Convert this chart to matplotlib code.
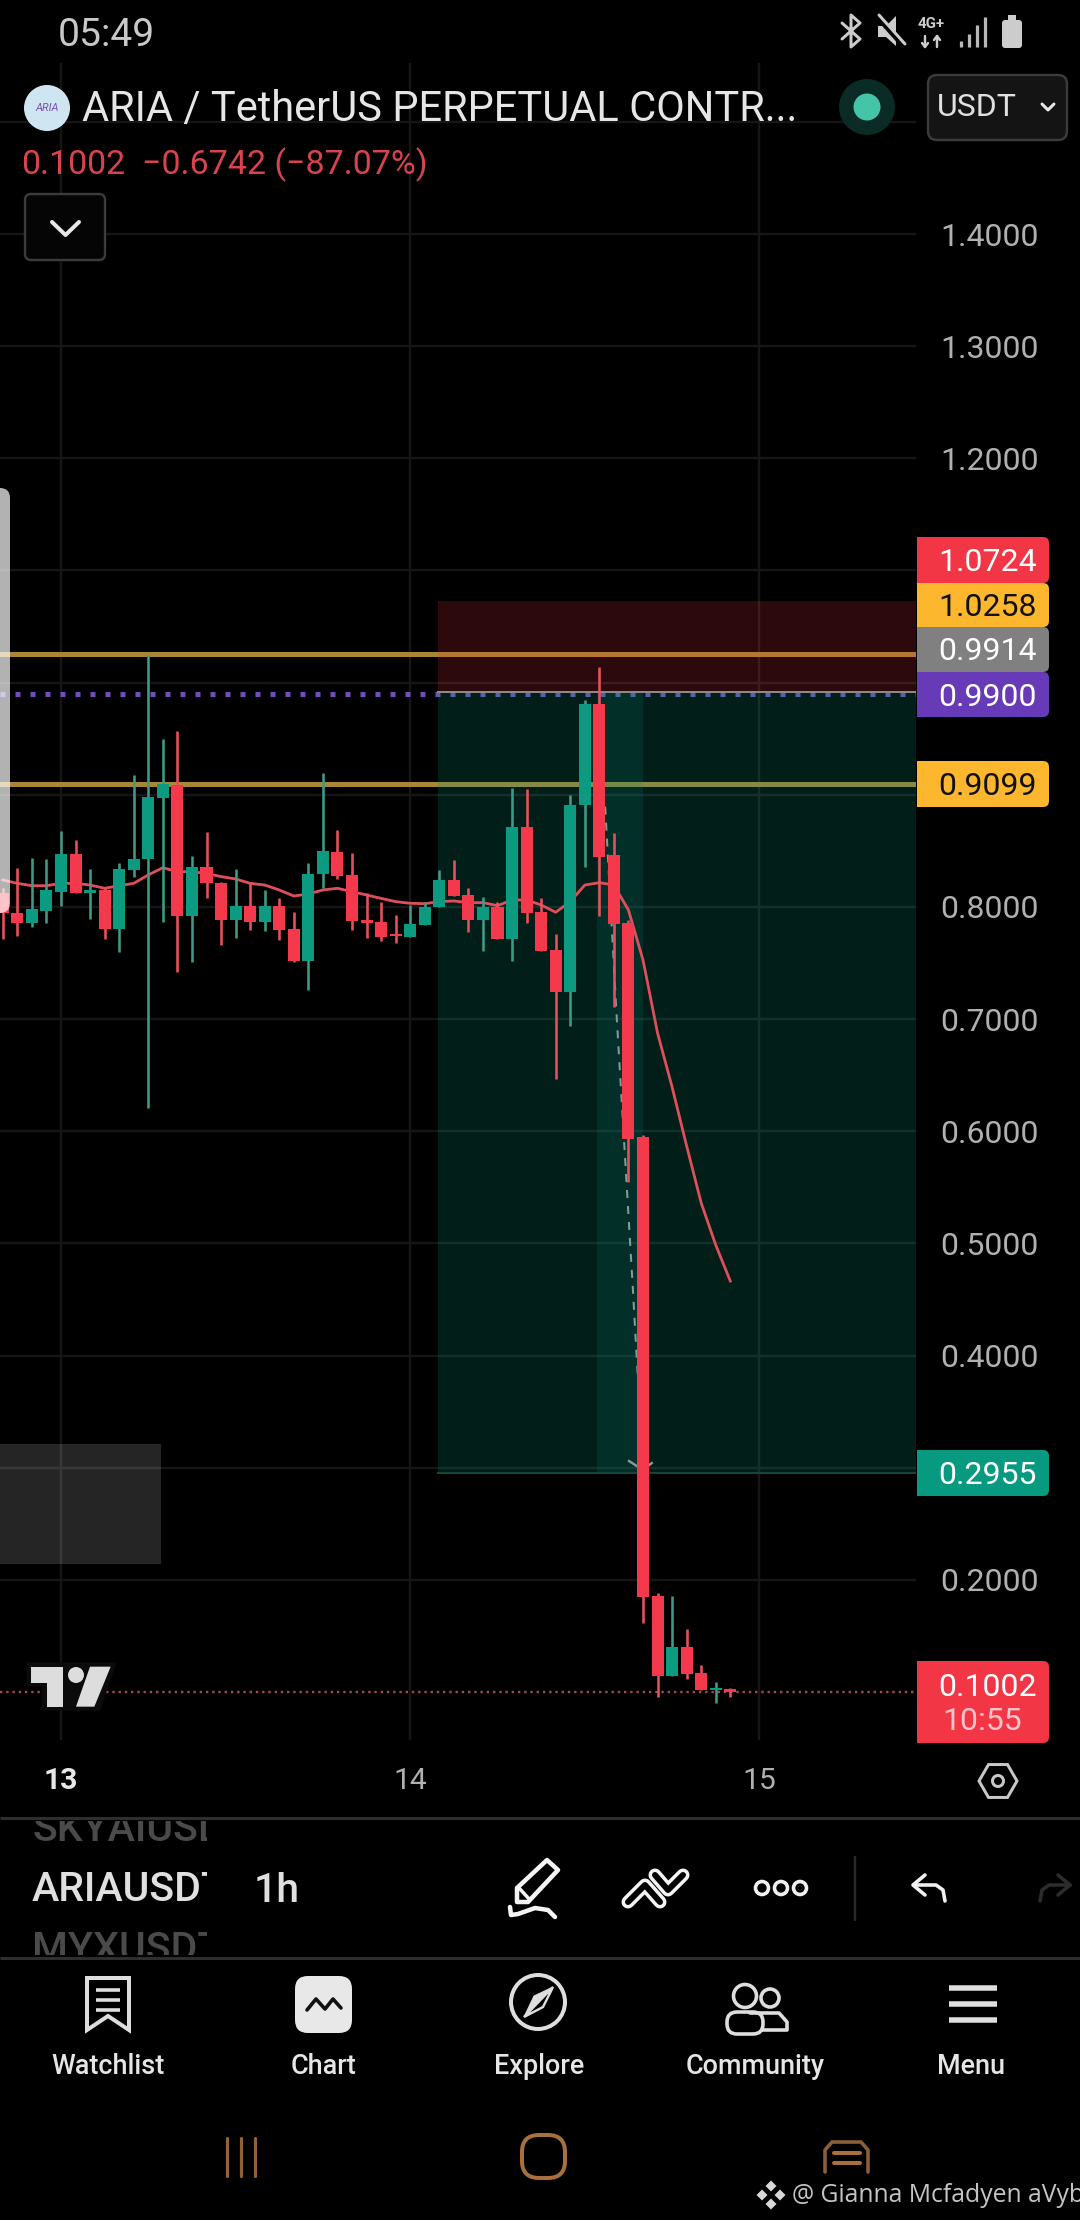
import math

import matplotlib
matplotlib.use("Agg")
import matplotlib.pyplot as plt
from matplotlib.patches import Rectangle, Circle, FancyBboxPatch, Polygon, RegularPolygon

plt.rcParams["font.family"] = ["Roboto", "DejaVu Sans"]

# hourly candles, hour 0 = the "13" gridline
hours = list(range(-4, 47))
opens = [.8121, .7943, .7860, .7966, .8136, .8472, .8127, .8151, .7806, .8332, .8424, .8974, .9087,
         .7922, .8353, .8210, .7886, .8008, .7868, .8008, .7800, .7521, .8290, .8486, .8282, .7880,
         .7862, .7755, .7735, .7842, .7996, .8240, .8106, .7886, .8002, .7714, .8709, .7952, .7616,
         .7244, .8906, .9809, .8460, .7854, .5948, .1853, .1145, .1401, .1166, .1017, .1023]
closes = [.7943, .7860, .7981, .8151, .8472, .8127, .8148, .7806, .8335, .8424, .8980, .9096, .7922,
          .8353, .8210, .7886, .8008, .7868, .8008, .7797, .7518, .8290, .8498, .8279, .7877, .7859,
          .7735, .7744, .7845, .7996, .8240, .8097, .7886, .7999, .7711, .8709, .7949, .7607, .7244,
          .8906, .9809, .8448, .7851, .5930, .1847, .1145, .1401, .1160, .1017, .1032, .1002]
highs = [.8166, .8344, .8433, .8424, .8677, .8597, .8335, .8180, .8388, .9176, 1.0246, .9494, .9569,
         .8454, .8665, .8225, .8335, .8225, .8151, .8076, .7952, .8394, .9191, .8686, .8478, .8121,
         .8047, .7928, .8017, .8047, .8329, .8418, .8166, .8091, .8041, .9057, .9048, .8076, .7759,
         .8998, .9845, 1.0142, .8656, .7883, .5970, .1879, .1856, .1558, .1240, .1092, .1032]
lows = [.7711, .7741, .7824, .7860, .8008, .8121, .7889, .7711, .7601, .8264, .6204, .7868, .7423,
        .7512, .8082, .7660, .7720, .7794, .7785, .7705, .7512, .7259, .8166, .8246, .7794, .7726,
        .7699, .7675, .7735, .7842, .7996, .8097, .7779, .7607, .7711, .7518, .7860, .7607, .6466,
        .6938, .8359, .7922, .7110, .5550, .1615, .0952, .1145, .1112, .1017, .0904, .0958]
ma_values = [.8240, .8210, .8189, .8189, .8210, .8210, .8195, .8166, .8189, .8210, .8285, .8350, .8314,
             .8314, .8299, .8270, .8249, .8210, .8195, .8151, .8097, .8115, .8151, .8166, .8136, .8106,
             .8076, .8047, .8032, .8029, .8047, .8053, .8038, .8038, .8011, .8062, .8062, .8017, .7952,
             .8047, .8195, .8216, .8195, .7972, .7527, .6876, .6394, .5868, .5360, .4985, .4664]

grid_prices = [1.5, 1.4, 1.3, 1.2, 1.1, 1.0, 0.9, 0.8, 0.7, 0.6, 0.5, 0.4, 0.3, 0.2]
shown_prices = [1.4, 1.3, 1.2, 0.8, 0.7, 0.6, 0.5, 0.4, 0.2]
day_hours = [0, 24, 48]
day_labels = ["13", "14", "15"]

gold_levels = [1.0258, 0.9099]
purple_level = 0.9900
last_price = 0.1002
stop_level = 1.0724
entry_level = 0.9914
target_level = 0.2955
position_hours = [25.9, 58.76]
highlight_hours = [36.84, 40.0]
dash_hours = [37.4, 38.2, 39.3, 40.0]
dash_prices = [0.8894, 0.70, 0.46, 0.2979]
arrow_hours = [39.04, 40.0, 40.6]
arrow_prices = [0.3059, 0.2979, 0.3041]
grey_box_hours = [-4.2, 6.87]
grey_box_prices = [0.2141, 0.3211]

tag_labels = ["1.0724", "1.0258", "0.9914", "0.9900", "0.9099", "0.2955"]
tag_colors = ["#f23645", "#fcb72e", "#808080", "#673ab7", "#fcb72e", "#089981"]
tag_text = ["#ffffff", "#111111", "#ffffff", "#ffffff", "#111111", "#ffffff"]
tag_tops = [537, 583, 627, 672, 761, 1450]
tag_bottoms = [583, 627, 672, 717, 807, 1496]

nav_labels = ["Watchlist", "Chart", "Explore", "Community", "Menu"]
nav_x = [108, 324, 539, 755, 971]

RED = "#f5394c"
GREEN = "#0c9b80"
RED_WICK = "#e8505c"
GREEN_WICK = "#3f9a86"
GRID = "#161616"

fig = plt.figure(figsize=(10.8, 22.2), dpi=100, facecolor="black")


def px(v):
    return v * 0.72


# chart panel spans pixel x 0-916, y 63-1740
ax = fig.add_axes([0, 1 - 1740 / 2220, 916 / 1080, (1740 - 63) / 2220], facecolor="black")
ax.set_xlim(-61 / 14.55, 855 / 14.55)
ax.set_ylim(1.4 - 1506 / 1121.5, 1.4 + 171 / 1121.5)
for s in ax.spines.values():
    s.set_visible(False)

ax.set_yticks(grid_prices)
ax.set_yticklabels([f"{p:.4f}" if p in shown_prices else "" for p in grid_prices],
                   fontsize=px(32), color="#b0b0b0")
ax.yaxis.tick_right()
ax.tick_params(axis="y", length=0, pad=px(24))
ax.set_xticks(day_hours)
ax.set_xticklabels(day_labels, fontsize=px(30), color="#b0b0b0")
ax.tick_params(axis="x", length=0, pad=px(27))
ax.get_xticklabels()[0].set_color("#e8e8e8")
ax.get_xticklabels()[0].set_fontweight("bold")
ax.grid(True, color=GRID, lw=px(2.4), zorder=0)
ax.set_axisbelow(True)

for lvl in gold_levels:
    ax.axhline(lvl, color="#a88636", lw=px(5), zorder=1)
ax.plot([-4.2, position_hours[1]], [purple_level, purple_level], color="#6f50b8", lw=px(5),
        ls=(0, (1, 2)), dash_capstyle="butt", zorder=1.5)

# position tool
pw = position_hours[1] - position_hours[0]
ax.add_patch(Rectangle((position_hours[0], entry_level), pw, stop_level - entry_level,
                       fc="#f23645", alpha=0.18, ec="none", zorder=2))
ax.add_patch(Rectangle((position_hours[0], target_level), pw, entry_level - target_level,
                       fc="#089981", alpha=0.2, ec="none", zorder=2))
ax.add_patch(Rectangle((highlight_hours[0], target_level), highlight_hours[1] - highlight_hours[0],
                       entry_level - target_level, fc="#089981", alpha=0.15, ec="none", zorder=2))
ax.plot(position_hours, [entry_level, entry_level], color="#8a8a8a", lw=px(2), zorder=2.2)
ax.plot(position_hours, [target_level, target_level], color="#12463c", lw=px(2), zorder=2.2)
ax.add_patch(Rectangle((grey_box_hours[0], grey_box_prices[0]), grey_box_hours[1] - grey_box_hours[0],
                       grey_box_prices[1] - grey_box_prices[0], fc="#ffffff", alpha=0.15, ec="none", zorder=2))

ax.axhline(last_price, color="#a04a52", lw=px(2.4), ls=(0, (1, 1.6)), zorder=2.5)

ax.plot(dash_hours, dash_prices, color="#8c9a96", lw=px(2), ls=(0, (4, 4)), zorder=2.6)
ax.plot(arrow_hours, arrow_prices, color="#8c9a96", lw=px(2.4), zorder=2.6)

ax.plot(hours, ma_values, color="#de4f5b", lw=px(2.8), zorder=3)

colors = [GREEN if c >= o else RED for o, c in zip(opens, closes)]
wick_colors = [GREEN_WICK if c >= o else RED_WICK for o, c in zip(opens, closes)]
ax.vlines(hours, lows, highs, colors=wick_colors, lw=px(2.6), zorder=4)
ax.bar(hours, [abs(c - o) for o, c in zip(opens, closes)], bottom=[min(o, c) for o, c in zip(opens, closes)],
       width=0.83, color=colors, zorder=5, linewidth=0)

# pixel overlay for the app chrome
ui = fig.add_axes([0, 0, 1, 1], zorder=5)
ui.set_xlim(0, 1080)
ui.set_ylim(2220, 0)
ui.axis("off")
ui.patch.set_alpha(0)


def text(x, y, s, size, color="#e6e6e6", ha="left", va="center", **kw):
    return ui.text(x, y, s, fontsize=px(size), color=color, ha=ha, va=va, **kw)


def line(xs, ys, color="#e8e8e8", w=4, **kw):
    ui.plot(xs, ys, color=color, lw=px(w), solid_capstyle=kw.pop("cap", "round"),
            solid_joinstyle="round", **kw)


def rbox(x0, y0, x1, y1, r, **kw):
    p = FancyBboxPatch((x0 + r, y0 + r), x1 - x0 - 2 * r, y1 - y0 - 2 * r,
                       boxstyle=f"round,pad={r},rounding_size={r}", **kw)
    ui.add_patch(p)
    return p


# scroll handle on the left edge
rbox(-20, 488, 10, 913, 10, fc="#ffffff", ec="none", alpha=0.7)

# tv logo
logo = [(80, 727), (350, 727), (300, 872), (125, 872), (125, 800), (80, 800)]
ui.add_patch(Polygon([(x / 3, 1420 + y / 3) for x, y in logo], fc="#0b0b0b", ec="none"))
t_part = [(93, 740), (190, 740), (190, 860), (142, 860), (142, 790), (93, 790)]
ui.add_patch(Polygon([(x / 3, 1420 + y / 3) for x, y in t_part], fc="#dddddd", ec="none"))
slash = [(270, 740), (332, 740), (283, 860), (228, 860)]
ui.add_patch(Polygon([(x / 3, 1420 + y / 3) for x, y in slash], fc="#dddddd", ec="none"))
ui.add_patch(Circle((228 / 3, 1420 + 765 / 3), 8, fc="#dddddd", ec="none"))

# price tags
for lab, col, tcol, top, bot in zip(tag_labels, tag_colors, tag_text, tag_tops, tag_bottoms):
    rbox(917, top, 1049, bot, 6, fc=col, ec="none")
    ui.add_patch(Rectangle((917, top), 20, bot - top, fc=col, ec="none"))
    text(1037, (top + bot) / 2 + 2.5, lab, 32, color=tcol, ha="right")
rbox(917, 1661, 1049, 1743, 6, fc="#f23645", ec="none")
ui.add_patch(Rectangle((917, 1661), 20, 82, fc="#f23645", ec="none"))
text(1037, 1688, f"{last_price:.4f}", 32, color="#ffffff", ha="right")
text(942, 1722, "10:55", 32, color="#ffc4ca")

# header
text(58, 36, "05:49", 39, color="#c8c8c8")
text(82, 109, "ARIA / TetherUS PERPETUAL CONTR...", 41.6, color="#e6e6e6")
ui.add_patch(Circle((47, 108), 23, fc="#cfe6f2", ec="none"))
text(47, 108, "ARIA", 11, color="#7a4fb0", ha="center", style="italic")
ui.add_patch(Circle((867, 107), 28, fc="#0a2b26", ec="none"))
ui.add_patch(Circle((867, 107), 13.5, fc="#45c5a8", ec="none"))
rbox(928, 75, 1067, 140, 9, fc="#141414", ec="#3c3c3c", lw=px(2.4))
text(937, 108, "USDT", 32, color="#e0e0e0")
line([1042, 1048, 1054], [104, 110, 104], w=3)
text(21, 165, "0.1002", 34, color="#d8434f")
text(142, 165, "\u22120.6742 (\u221287.07%)", 34, color="#d8434f")
rbox(25, 194, 105, 260, 6, fc="#050505", ec="#3c3c3c", lw=px(2.4))
line([52, 65.5, 79], [222, 235, 222], w=4)

# status icons
line([842, 860, 851, 851, 860, 842], [23, 39, 47, 15, 23, 39], color="#cccccc", w=3)
ui.add_patch(Polygon([(878, 26), (886, 26), (896, 16), (896, 46), (886, 37), (878, 37)], fc="#cccccc", ec="none"))
line([879, 905], [18, 47], color="#000000", w=6)
line([879, 905], [15, 44], color="#cccccc", w=3)
text(931, 24, "4G+", 15, color="#cccccc", ha="center", fontweight="bold")
line([925, 925], [36, 47], color="#cccccc", w=2.4)
line([922, 925, 928], [43, 47, 43], color="#cccccc", w=2.4)
line([937, 937], [36, 47], color="#cccccc", w=2.4)
line([934, 937, 940], [40, 36, 40], color="#cccccc", w=2.4)
for bx, bt in zip([961, 969, 977, 985], [41, 34, 25, 17]):
    line([bx, bx], [bt, 47], color="#b8b8b8", w=3.2, cap="butt")
rbox(1002, 20, 1022, 48, 3, fc="#cccccc", ec="none")
ui.add_patch(Rectangle((1008, 15), 8, 6, fc="#cccccc", ec="none"))

# hexagon settings
ui.add_patch(RegularPolygon((998, 1781), 6, radius=19, orientation=math.pi / 2, fc="none", ec="#c8c8c8", lw=px(3)))
ui.add_patch(Circle((998, 1781), 5.5, fc="none", ec="#c8c8c8", lw=px(3)))

# separators
line([0, 1080], [1818, 1818], color="#2e2e2e", w=3, cap="butt")
line([0, 1080], [1958, 1958], color="#2e2e2e", w=3, cap="butt")

# toolbar
sym_clip = Rectangle((32, 1821), 175, 134, transform=ui.transData)
for y, s, c in zip([1830, 1890, 1950], ["SKYAIUSDT", "ARIAUSDT", "MYXUSDT"], ["#4a4a4a", "#e0e0e0", "#4a4a4a"]):
    t = text(32, y, s, 41, color=c, fontweight="medium")
    t.set_clip_path(sym_clip)
    t.set_clip_on(True)
text(254, 1891, "1h", 41, color="#e0e0e0", fontweight="medium")

pencil = [(547, 1860), (558, 1870), (528, 1902), (517, 1902), (517, 1888)]
ui.add_patch(Polygon(pencil, fc="none", ec="#f4f4f4", lw=px(4.5), joinstyle="round"))
line([519, 530], [1888, 1900], color="#f4f4f4", w=3.5)
line([510, 511, 518, 535, 548, 555], [1907, 1915, 1914, 1908, 1910, 1917], color="#f4f4f4", w=4.5)
for xs, ys in (([628, 645, 660], [1902, 1885, 1902]), ([655, 668, 683], [1875, 1890, 1875])):
    line(xs, ys, color="#f4f4f4", w=13)
    line(xs, ys, color="#000000", w=6)
for cx in [762, 781, 800]:
    ui.add_patch(Circle((cx, 1888), 6.5, fc="none", ec="#f0f0f0", lw=px(3.6)))
line([855, 855], [1857, 1920], color="#2a2a2a", w=2.4)
line([945, 943, 936, 914], [1901, 1890, 1885, 1885], color="#f0f0f0", w=3.6)
line([925, 913, 925], [1875, 1885, 1895], color="#f0f0f0", w=3.6)
line([1040, 1042, 1049, 1070], [1901, 1890, 1885, 1885], color="#2c2c2c", w=3.6)
line([1058, 1070, 1058], [1875, 1885, 1895], color="#2c2c2c", w=3.6)

# bottom nav
for lab, x in zip(nav_labels, nav_x):
    text(x, 2067, lab, 27, color="#e6e6e6", ha="center", fontweight="medium")

ui.add_patch(Polygon([(87, 1978), (129, 1978), (129, 2030), (108, 2016), (87, 2030)], fc="none", ec="#dedede",
                     lw=px(4), joinstyle="miter"))
for y in [1990, 2000, 2010]:
    line([96, 120], [y, y], color="#dedede", w=3.6, cap="butt")

rbox(295, 1976, 352, 2033, 13, fc="#e8e8e8", ec="none")
line([307, 316, 325, 333, 341], [2010, 1999, 2009, 1999, 2008], color="#111111", w=3.6)

ui.add_patch(Circle((538, 2002), 27, fc="none", ec="#dedede", lw=px(4)))
ui.add_patch(Polygon([(553, 1987), (524, 2017), (534, 1996)], fc="#dedede", ec="#dedede", lw=px(1)))
ui.add_patch(Polygon([(553, 1987), (524, 2017), (543, 2007)], fc="none", ec="#dedede", lw=px(2.4)))

ui.add_patch(Circle((745, 1996), 11.5, fc="none", ec="#dedede", lw=px(3.6)))
ui.add_patch(Circle((770, 1998), 9, fc="none", ec="#dedede", lw=px(3.6)))
line([750, 779, 787, 787, 762], [2013, 2013, 2022, 2030, 2030], color="#dedede", w=3.6)
rbox(727, 2012, 763, 2034, 10, fc="black", ec="#dedede", lw=px(3.6))

for y in [1988, 2004, 2020]:
    line([949, 997], [y, y], color="#dedede", w=5.5, cap="butt")

# android nav
for x in [227, 241, 255]:
    line([x, x], [2138, 2176], color="#8f6238", w=3.2)
rbox(522, 2135, 565, 2178, 17, fc="none", ec="#a9703e", lw=px(4))
line([825, 825, 832, 861, 868, 868], [2172, 2150, 2142, 2142, 2150, 2172], color="#8b5f38", w=3.6)
line([834, 860], [2153, 2153], color="#a9703e", w=4)
line([834, 860], [2163, 2163], color="#a9703e", w=4)

# watermark
for dx, dy in [(0, -9), (-9, 0), (9, 0), (0, 9)]:
    ui.add_patch(RegularPolygon((771 + dx, 2195 + dy), 4, radius=5.5, orientation=0, fc="#d8d8d8", ec="none"))
text(792, 2195, "@ Gianna Mcfadyen aVyb", 24.8, color="#c4c4c4", family=["Open Sans", "DejaVu Sans"])

fig.savefig("out.png", dpi=100, facecolor="black")
